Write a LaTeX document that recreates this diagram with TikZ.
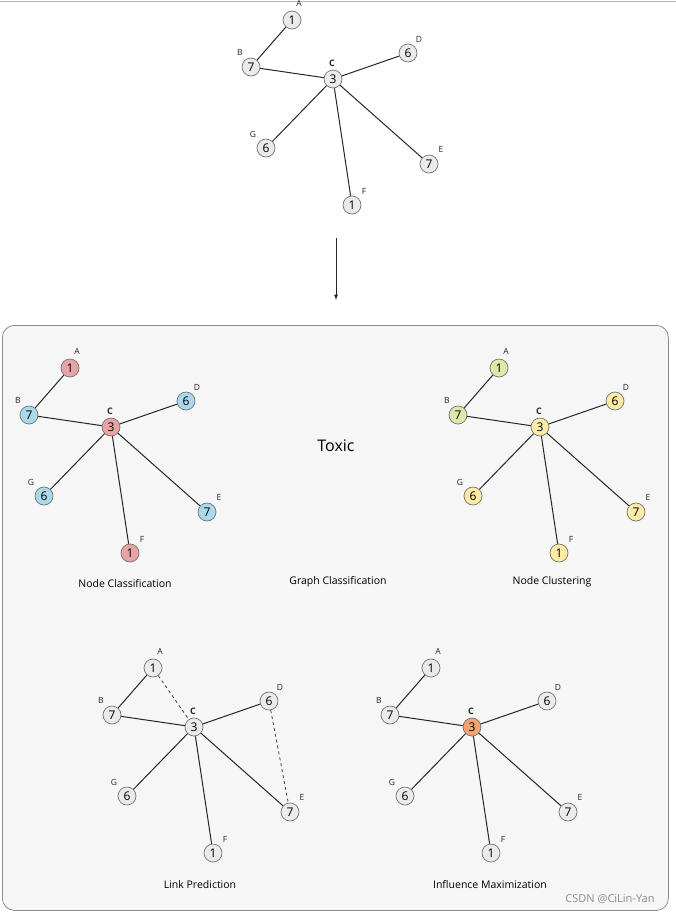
\documentclass[tikz,border=0pt]{standalone}
\usepackage{fontspec}
\setmainfont{Open Sans}
\begin{document}
\begin{tikzpicture}[x=1pt,y=-1pt,
  gn/.style={circle,draw=black!55,line width=0.7pt,minimum size=18pt,inner sep=0pt,font=\fontsize{12}{12}\selectfont},
  lab/.style={font=\fontsize{8.5}{9}\selectfont,text=black!85},
  ed/.style={draw=black!85,line width=1pt},
  captxt/.style={font=\fontsize{10.5}{11}\selectfont}]
\useasboundingbox (0,0) rectangle (676,914);
\draw[black!30,line width=1pt] (0,1) -- (676,1);
\newcommand\grph[3]{%
\begin{scope}[shift={(#2,#3)}]
\node[gn,fill=cC] (#1C) at (0,0) {3};
\node[gn,fill=cA] (#1A) at (-41,-59) {1};
\node[gn,fill=cB] (#1B) at (-82,-12) {7};
\node[gn,fill=cD] (#1D) at (75,-26) {6};
\node[gn,fill=cG] (#1G) at (-67,69) {6};
\node[gn,fill=cE] (#1E) at (96,85) {7};
\node[gn,fill=cF] (#1F) at (19,126) {1};
\node[lab,font=\bfseries\fontsize{9}{9}\selectfont] (#1lC) at (-1,-16) {C};
\node[lab] (#1lA) at (-34,-76) {A};
\node[lab] (#1lB) at (-93,-27) {B};
\node[lab] (#1lD) at (86,-40) {D};
\node[lab] (#1lG) at (-80,55) {G};
\node[lab] (#1lE) at (108,70) {E};
\node[lab] (#1lF) at (31,112) {F};
\draw[ed] (#1A) -- (#1B) (#1B) -- (#1C) (#1C) -- (#1D) (#1C) -- (#1G) (#1C) -- (#1E) (#1C) -- (#1F);
\end{scope}}
\colorlet{cA}{black!8}\colorlet{cB}{black!8}\colorlet{cC}{black!8}\colorlet{cD}{black!8}\colorlet{cE}{black!8}\colorlet{cF}{black!8}\colorlet{cG}{black!8}
\grph{t}{333}{79}
\coordinate (a1) at (336,238);
\coordinate (a2) at (336,300);
\draw[-latex,black!85,line width=0.9pt] (a1) -- (a2);
\node[draw=black!45,fill=black!3.5,rounded corners=12pt,minimum width=666pt,minimum height=585pt,anchor=north west,line width=0.8pt] (panel) at (2,325) {};
\definecolor{rd}{HTML}{E8A4A4}\definecolor{bl}{HTML}{A9D9EA}
\colorlet{cA}{rd}\colorlet{cB}{bl}\colorlet{cC}{rd}\colorlet{cD}{bl}\colorlet{cE}{bl}\colorlet{cF}{rd}\colorlet{cG}{bl}
\grph{n}{111}{427}
\definecolor{gr}{HTML}{DDE9A8}\definecolor{ye}{HTML}{FCEBA4}
\colorlet{cA}{gr}\colorlet{cB}{gr}\colorlet{cC}{ye}\colorlet{cD}{ye}\colorlet{cE}{ye}\colorlet{cF}{ye}\colorlet{cG}{ye}
\grph{k}{540}{427}
\colorlet{cA}{black!8}\colorlet{cB}{black!8}\colorlet{cC}{black!8}\colorlet{cD}{black!8}\colorlet{cE}{black!8}\colorlet{cF}{black!8}\colorlet{cG}{black!8}
\grph{l}{194}{727}
\draw[black!75,dashed,line width=0.8pt] (lA) -- (lC) (lD) -- (lE);
\definecolor{or}{HTML}{F4A470}
\colorlet{cC}{or}
\grph{i}{472}{727}
\node[font=\fontsize{16}{17}\selectfont] (tox) at (336,446) {Toxic};
\node[captxt] (c1) at (125,584) {Node Classification};
\node[captxt] (c2) at (338,582) {Graph Classification};
\node[captxt] (c3) at (552,582) {Node Clustering};
\node[captxt] (c4) at (200,885) {Link Prediction};
\node[captxt] (c5) at (490,885) {Influence Maximization};
\node[font=\fontsize{11}{12}\selectfont,text=black!45] (wm) at (610,899) {CSDN @CiLin-Yan};
\end{tikzpicture}
\end{document}
